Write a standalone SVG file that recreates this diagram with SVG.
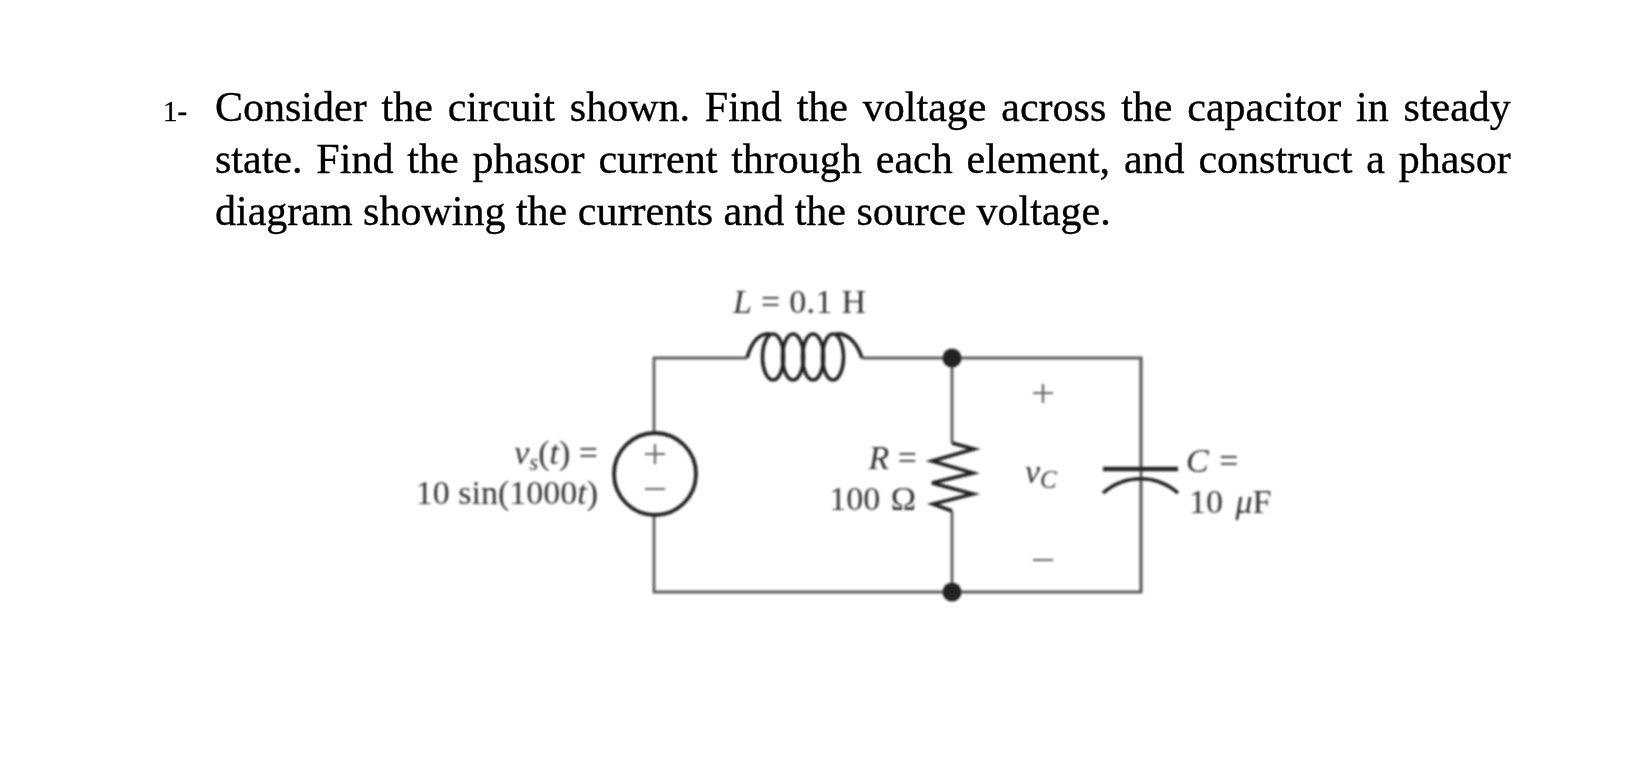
<svg xmlns="http://www.w3.org/2000/svg" width="1633" height="762" viewBox="0 0 1633 762">
<style>
.q{font-family:"Liberation Serif","Times New Roman",serif;font-size:42px;fill:#000;stroke:#000;stroke-width:.35}
.l{font-family:"Liberation Serif","Times New Roman",serif;font-size:34px;fill:#333}
.i{font-style:italic}
.w{fill:none;stroke:#5c5c5c;stroke-width:2.8}
.k{fill:none;stroke:#222;stroke-width:3.6}
.s{fill:none;stroke:#666;stroke-width:2.2}
</style>
<defs>
<filter id="b" x="-5%" y="-5%" width="110%" height="110%"><feGaussianBlur stdDeviation="0.9"/></filter>
<filter id="t" x="-2%" y="-10%" width="104%" height="120%"><feGaussianBlur stdDeviation="0.3"/></filter>
</defs>
<rect width="1633" height="762" fill="#fff"/>
<g id="question" filter="url(#t)">
<text class="q" x="163" y="121" style="font-size:29px">1-</text>
<text class="q" x="215" y="121" style="word-spacing:4.35px">Consider the circuit shown. Find the voltage across the capacitor in steady</text>
<text class="q" x="215" y="173" style="word-spacing:3.4px">state. Find the phasor current through each element, and construct a phasor</text>
<text class="q" x="215" y="225">diagram showing the currents and the source voltage.</text>
</g>
<g filter="url(#b)">
<g id="connectors">
<path class="w" d="M747 358H654V433M654 515V592H1141V358H862"/>
<path class="w" d="M952 358V443M952 511V592M1141 358V469M1141 480V592"/>
</g>
<g id="inductor">
<path class="k" d="M747 358C752 340 760 333 770 334M836 334C846 333 856 340 862 358"/>
<ellipse class="k" cx="773" cy="357" rx="10.5" ry="23"/>
<ellipse class="k" cx="793" cy="357" rx="10.5" ry="23"/>
<ellipse class="k" cx="813" cy="357" rx="10.5" ry="23"/>
<ellipse class="k" cx="833" cy="357" rx="10.5" ry="23"/>
<text class="l" x="733" y="313" style="word-spacing:0px;letter-spacing:.3px"><tspan class="i">L</tspan> = 0.1 H</text>
</g>
<g id="source">
<circle cx="655" cy="474" r="41" fill="none" stroke="#222" stroke-width="3.8"/>
<path class="s" d="M645 454H665M655 444V464M645 489H665"/>
<text class="l" x="598" y="464" text-anchor="end"><tspan class="i">v</tspan><tspan class="i" font-size="23" dy="6">s</tspan><tspan dy="-6">(</tspan><tspan class="i">t</tspan>) =</text>
<text class="l" x="598" y="504" text-anchor="end">10 sin(1000<tspan class="i">t</tspan>)</text>
</g>
<g id="resistor">
<path class="k" d="M952 443L974 449L932 461L973 473L932 483L973 494L933 504L952 511"/>
<text class="l" x="917" y="469" text-anchor="end"><tspan class="i">R</tspan> =</text>
<text class="l" x="916" y="510" text-anchor="end" style="word-spacing:2px">100 Ω</text>
</g>
<g id="node-top"><circle cx="952" cy="358" r="9.5" fill="#222"/></g>
<g id="node-bottom"><circle cx="952" cy="592" r="9.5" fill="#222"/></g>
<g id="capacitor-voltage">
<path class="s" d="M1033 393H1053M1043 384V403M1033 560H1053"/>
<text class="l i" x="1025" y="483">v<tspan font-size="25" dy="5">C</tspan></text>
</g>
<g id="capacitor">
<path class="k" d="M1103 469H1178" style="stroke-width:4.4"/>
<path class="k" d="M1103 493C1125 474 1156 474 1178 493"/>
<text class="l" x="1186" y="472" style="word-spacing:2px"><tspan class="i">C</tspan> =</text>
<text class="l" x="1189" y="513" style="word-spacing:4px">10 <tspan class="i">μ</tspan>F</text>
</g>
</g>
</svg>
